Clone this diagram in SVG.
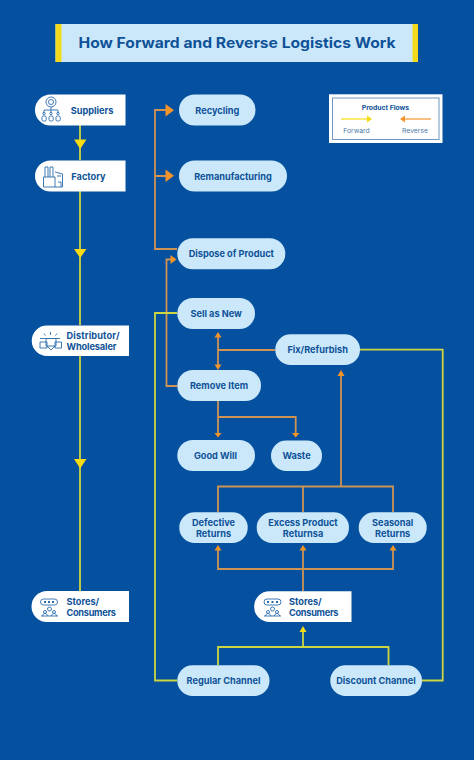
<svg xmlns="http://www.w3.org/2000/svg" width="474" height="760" viewBox="0 0 474 760">
<style>
text{font-family:"Inter","Liberation Sans",sans-serif;font-weight:700;fill:#0f5298;font-size:9.2px;text-anchor:middle}
.n{fill:#cbe8fb}.w{fill:#fff}
.f{fill:none;stroke:#cdd640;stroke-width:1.8}
.r{fill:none;stroke:#cf9354;stroke-width:1.8}
.fh{fill:#f7dc14}.rh{fill:#f2942a}
.i{fill:none;stroke:#2a6cab;stroke-width:.9}
.l{text-anchor:start}
</style>
<rect width="474" height="760" fill="#05509f"/>
<g id="title">
<rect x="55.500" y="24" width="362.500" height="38" fill="#cbe8fb"/>
<rect x="55.500" y="24" width="6" height="38" fill="#f2d91c"/>
<rect x="412.500" y="24" width="5.500" height="38" fill="#f2d91c"/>
<text x="237" y="48" style="font-size:14.500px" textLength="317" lengthAdjust="spacingAndGlyphs">How Forward and Reverse Logistics Work</text>
</g>
<g id="connectors">
<path class="f" d="M80 125V160M80 191V325M80 356V591"/>
<path class="fh" d="M74 139.500H86.500L80.200 149ZM74 249H86.500L80.200 258ZM74 459H86.500L80.200 468.500Z"/>
<path class="r" d="M166 110H155V249H177M155 176H166"/>
<path class="rh" d="M165.500 104V116.500L174 110.200ZM165.500 169.500V182L174 175.800Z"/>
<path class="r" d="M177 386H166.500V259.500H172"/>
<path class="rh" d="M170.500 255V264L176.500 259.500Z"/>
<path class="f" d="M177 313H155V680.500H177"/>
<path class="f" d="M360 349.700H442.700V680.500H422"/>
<path class="r" d="M218 336V366M275 350H218"/>
<path class="rh" d="M214.500 337.500H221.500L218 332ZM214.500 364.500H221.500L218 370Z"/>
<path class="r" d="M218 401V434M218 417H295.700V434"/>
<path class="rh" d="M214.500 433H221.500L218 437.500ZM292 433H299.500L295.700 437.500Z"/>
<path class="r" d="M341 486.500V375M218 512V486.500H393V512M303 486.500V512"/>
<path class="rh" d="M337.500 376H344.500L341 370Z"/>
<path class="r" d="M303 591V549M218 549V569H393V549"/>
<path class="rh" d="M214.500 550.500H221.500L218 545ZM299.500 550.500H306.500L303 545ZM389.500 550.500H396.500L393 545Z"/>
<path class="f" d="M218 665V647H388.500V665M303 647V631"/>
<path class="fh" d="M299.500 632H306.500L303 626Z"/>
</g>
<g id="suppliers">
<path class="w" d="M50.500 94.500H125.500V125.500H50.500A15.500 15.500 0 0 1 50.500 94.500Z"/>
<g class="i"><circle cx="51" cy="102" r="5"/><circle cx="51" cy="102" r="2.500"/><path d="M51 107V110M44 112.500V110H58V112.500M51 110V112.500"/><circle cx="44" cy="113.500" r="1.200"/><circle cx="51" cy="113.500" r="1.200"/><circle cx="58" cy="113.500" r="1.200"/><rect x="42" y="116" width="4.200" height="5" rx="1.500"/><rect x="49" y="116" width="4.200" height="5" rx="1.500"/><rect x="56" y="116" width="4.200" height="5" rx="1.500"/></g>
<text x="92" y="113.500">Suppliers</text>
</g>
<g id="factory">
<path class="w" d="M50.500 160.500H125.500V191.500H50.500A15.500 15.500 0 0 1 50.500 160.500Z"/>
<path class="i" d="M45 177V167H48V177M50 177V167H53V177M43.500 177H55V187H43.500ZM55 172L62.500 174V187H55M58 182H61V187M57 176H61"/>
<text x="88.500" y="179.500">Factory</text>
</g>
<g id="distributor">
<path class="w" d="M47 325.500H129V356H47A15.250 15.250 0 0 1 47 325.500Z"/>
<path class="i" d="M40 338.500H60M46 338.500H56V346H46ZM40 342H47V348H40ZM55 342H61.500V348H55ZM47 346L51 350L55 346M50.500 332V335M44 333.500L45.500 335.500M57 333.500L55.500 335.500M41 338V338.500"/>
<text class="l" x="66.500" y="339" textLength="53">Distributor/</text>
<text class="l" x="66.500" y="350" textLength="50">Wholesaler</text>
</g>
<g id="stores-left">
<path class="w" d="M47 591H129V622H47A15.500 15.500 0 0 1 47 591Z"/>
<g class="i"><rect x="40.500" y="599" width="17" height="6" rx="3"/><circle cx="49.500" cy="609" r="2"/><circle cx="45" cy="612" r="1.500"/><circle cx="54" cy="612" r="1.500"/><path d="M42 616L44 613.500H46L48 616M51 616L53 613.500H55L57 616M41 616H58"/></g>
<path fill="#2a6cab" d="M44 601h2v2h-2zM48 601h2v2h-2zM52 601h2v2h-2z"/>
<text class="l" x="66.500" y="605">Stores/</text>
<text class="l" x="66.500" y="616" textLength="49.500">Consumers</text>
</g>
<g id="recycling"><rect class="n" x="179" y="94.500" width="76.500" height="31" rx="15.500"/><text x="217.300" y="113.500">Recycling</text></g>
<g id="remanufacturing"><rect class="n" x="179" y="160.500" width="108" height="31" rx="15.500"/><text x="233" y="179.500">Remanufacturing</text></g>
<g id="dispose"><rect class="n" x="177.300" y="238.300" width="108" height="31" rx="15.500"/><text x="231.300" y="257.300">Dispose of Product</text></g>
<g id="sell"><rect class="n" x="177.300" y="298" width="77.700" height="31" rx="15.500"/><text x="216.200" y="316.500">Sell as New</text></g>
<g id="remove"><rect class="n" x="177.300" y="370" width="83.700" height="31" rx="15.500"/><text x="219" y="389">Remove Item</text></g>
<g id="fix"><rect class="n" x="275.300" y="334.300" width="84.700" height="30.700" rx="15.300"/><text x="317.700" y="353">Fix/Refurbish</text></g>
<g id="goodwill"><rect class="n" x="177.300" y="440" width="77.700" height="31" rx="15.500"/><text x="215.500" y="459">Good Will</text></g>
<g id="waste"><rect class="n" x="271" y="440.500" width="51" height="30.500" rx="15.200"/><text x="296.500" y="459">Waste</text></g>
<g id="defective"><rect class="n" x="179.300" y="512.300" width="68.400" height="30.700" rx="15.300"/><text x="213.500" y="526">Defective</text><text x="213.500" y="537">Returns</text></g>
<g id="excess"><rect class="n" x="256.700" y="512.300" width="92.300" height="30.700" rx="15.300"/><text x="303" y="526">Excess Product</text><text x="303" y="537">Returnsa</text></g>
<g id="seasonal"><rect class="n" x="358.700" y="512.300" width="68" height="30.700" rx="15.300"/><text x="392.700" y="526">Seasonal</text><text x="392.700" y="537">Returns</text></g>
<g id="stores-right">
<path class="w" d="M269.500 591.300H351.500V622H269.500A15.350 15.350 0 0 1 269.500 591.300Z"/>
<g class="i"><rect x="264" y="599" width="17" height="6" rx="3"/><circle cx="272.500" cy="609" r="2"/><circle cx="268" cy="612" r="1.500"/><circle cx="277" cy="612" r="1.500"/><path d="M265 616L267 613.500H269L271 616M274 616L276 613.500H278L280 616M264 616H281"/></g>
<path fill="#2a6cab" d="M267 601h2v2h-2zM271.500 601h2v2h-2zM276 601h2v2h-2z"/>
<text class="l" x="289" y="605">Stores/</text>
<text class="l" x="289" y="616" textLength="49.500">Consumers</text>
</g>
<g id="regular"><rect class="n" x="177.300" y="665.300" width="92.200" height="30.700" rx="15.300"/><text x="223.500" y="684">Regular Channel</text></g>
<g id="discount"><rect class="n" x="330.300" y="665.300" width="91.700" height="30.700" rx="15.300"/><text x="376" y="684">Discount Channel</text></g>
<g id="legend">
<rect x="329" y="94.300" width="113.500" height="48.700" fill="#fff"/>
<rect x="332.500" y="98" width="106.500" height="41.500" fill="none" stroke="#6f97bf" stroke-width="1"/>
<text x="385.500" y="110" style="font-size:6.800px">Product Flows</text>
<path d="M341 119H368" stroke="#f7dc14" stroke-width="1.200" fill="none"/><path class="fh" d="M367 115.500V122.500L372 119Z"/>
<path d="M431 119H404" stroke="#f2942a" stroke-width="1.200" fill="none"/><path class="rh" d="M405 115.500V122.500L400 119Z"/>
<text x="356.500" y="133" style="font-size:6.800px;font-weight:400;fill:#4f7ba8">Forward</text>
<text x="415" y="133" style="font-size:6.800px;font-weight:400;fill:#4f7ba8">Reverse</text>
</g>
</svg>
